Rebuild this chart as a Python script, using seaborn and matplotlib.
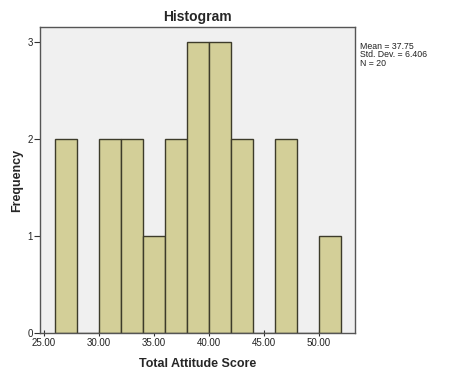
"""SPSS-style histogram of total attitude scores."""
import matplotlib
matplotlib.use("Agg")
import matplotlib.pyplot as plt
import pandas as pd
import seaborn as sns

# bin centres (bin width 2) and counts
bin_centers = [27, 29, 31, 33, 35, 37, 39, 41, 43, 45, 47, 49, 51]
counts = [2, 0, 2, 2, 1, 2, 3, 3, 2, 0, 2, 0, 1]
x_ticks = [25, 30, 35, 40, 45, 50]
y_ticks = [0, 1, 2, 3]
stats_text = "Mean = 37.75\nStd. Dev. = 6.406\nN = 20"

BAR = "#d3cf98"
EDGE = "#3d3b2a"
PANEL = "#f0f0f0"

sns.set_style("white")
plt.rcParams["font.family"] = ["Liberation Sans", "DejaVu Sans"]

df = pd.DataFrame({"score": bin_centers, "count": counts})

fig = plt.figure(figsize=(4.74, 3.79), dpi=100)
ax = fig.add_axes([40 / 474, 1 - 333 / 379, 315 / 474, 306 / 379])
ax.set_facecolor(PANEL)

sns.histplot(
    data=df,
    x="score",
    weights="count",
    binwidth=2,
    binrange=(26, 52),
    color=BAR,
    edgecolor=EDGE,
    linewidth=1.0,
    alpha=1,
    ax=ax,
)

ax.set_xlim(24.64, 53.27)
ax.set_ylim(0, 3.155)
ax.set_xticks(x_ticks)
ax.set_xticklabels([f"{t:.2f}" for t in x_ticks])
ax.set_yticks(y_ticks)

ax.tick_params(axis="x", bottom=True, length=5, width=0.8, color="#333333",
               direction="inout", labelsize=7, labelcolor="#222222", pad=1)
ax.tick_params(axis="y", left=True, length=4, width=0.8, color="#333333",
               direction="out", labelsize=7, labelcolor="#222222", pad=1)

for side in ["left", "right", "top", "bottom"]:
    ax.spines[side].set_visible(True)
    ax.spines[side].set_color("#555555")
    ax.spines[side].set_linewidth(1.0)

ax.set_xlabel("Total Attitude Score", fontsize=9, fontweight="bold", labelpad=7)
ax.set_ylabel("Frequency", fontsize=9, fontweight="bold", labelpad=3)
ax.set_title("Histogram", fontsize=10, fontweight="bold", pad=4)

fig.text(360 / 474, 1 - 42 / 379, stats_text, fontsize=6.3, va="top", ha="left",
         color="#222222", linespacing=0.9)

fig.savefig("out.png", dpi=100, facecolor="white")
